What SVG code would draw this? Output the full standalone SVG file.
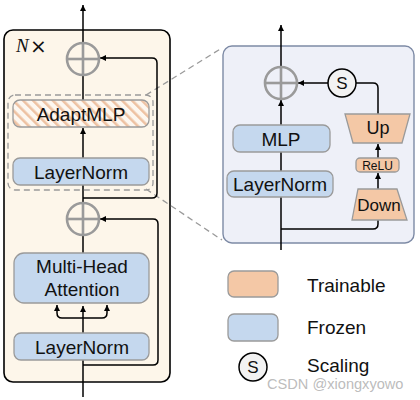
<svg xmlns="http://www.w3.org/2000/svg" width="420" height="400" viewBox="0 0 420 400">
<defs>
<marker id="ah" viewBox="0 0 10 10" refX="10" refY="5" markerWidth="7" markerHeight="6" orient="auto-start-reverse" markerUnits="userSpaceOnUse"><path d="M0,0 L10,5 L0,10 z" fill="#000"/></marker>
<pattern id="hatch" patternUnits="userSpaceOnUse" width="7" height="7" patternTransform="rotate(-45)"><rect width="7" height="7" fill="#fdf7f0"/><rect width="2.6" height="7" fill="#eec2a3"/></pattern>
</defs>
<style>
.t{font-family:"Liberation Sans",Arial,sans-serif;fill:#111;text-anchor:middle}
.ln{fill:none;stroke:#000;stroke-width:1.5}
.blue{fill:#c5d8ee;stroke:#9a9a9a;stroke-width:1.3}
.orange{fill:#f4c8a6;stroke:#9a9a9a;stroke-width:1.3}
.plus{stroke:#9a9a9a;stroke-width:2.6}
.dash{fill:none;stroke:#9a9a9a;stroke-width:1.3;stroke-dasharray:6,4}
</style>
<rect width="420" height="400" fill="#fff"/>
<g id="block-left">
<rect x="4" y="30" width="166" height="352" rx="9" fill="#fdf6ea" stroke="#000" stroke-width="1.6"/>
<text x="16" y="52" font-family="Liberation Serif,serif" font-size="19" font-style="italic" fill="#111">N</text>
<text x="30" y="53" font-family="DejaVu Sans,sans-serif" font-size="20" fill="#111">×</text>
</g>
<g id="block-right">
<rect x="223" y="46" width="191" height="197" rx="9" fill="#eef0f8" stroke="#7d8aa5" stroke-width="1.4"/>
</g>
<g id="connectors">
<line class="dash" x1="146" y1="95" x2="222" y2="48"/>
<line class="dash" x1="146" y1="189" x2="222" y2="240"/>
<path class="ln" d="M83,397 V360"/>
<path class="ln" d="M83,333 V306" marker-end="url(#ah)"/>
<path class="ln" d="M57,305 V313 Q57,318 62,318 H102 Q107,318 107,313 V305" marker-start="url(#ah)" marker-end="url(#ah)"/>
<path class="ln" d="M83,253 V235"/>
<path class="ln" d="M83,203 V185"/>
<path class="ln" d="M83,158 V128" marker-end="url(#ah)"/>
<path class="ln" d="M83,100 V75"/>
<path class="ln" d="M83,43 V5" marker-end="url(#ah)"/>
<path class="ln" d="M83,365 H153 Q158,365 158,360 V224 Q158,219 153,219 H100" marker-end="url(#ah)"/>
<path class="ln" d="M83,198 H152 Q157,198 157,193 V63 Q157,58 152,58 H100" marker-end="url(#ah)"/>
<path class="ln" d="M281,250 V197"/>
<path class="ln" d="M281,171 V152"/>
<path class="ln" d="M281,125 V100" marker-end="url(#ah)"/>
<path class="ln" d="M281,67 V25" marker-end="url(#ah)"/>
<path class="ln" d="M281,229 H373 Q378,229 378,224 V220"/>
<path class="ln" d="M378,189 V173" marker-end="url(#ah)"/>
<path class="ln" d="M378,158 V144" marker-end="url(#ah)"/>
<path class="ln" d="M378,114 V88 Q378,83 373,83 H356"/>
<path class="ln" d="M328,83 H298" marker-end="url(#ah)"/>
</g>
<g id="add-top">
<circle cx="83" cy="59" r="16" fill="#fdf6ea" class="plus"/>
<line class="plus" x1="67" y1="59" x2="99" y2="59"/><line class="plus" x1="83" y1="43" x2="83" y2="75"/>
</g>
<g id="adapter-group">
<rect class="dash" x="8" y="95" width="145" height="95" rx="7"/>
</g>
<g id="adaptmlp">
<rect x="13" y="100" width="136" height="27" rx="7" fill="url(#hatch)" stroke="#9a9a9a" stroke-width="1.3"/>
<text class="t" x="81" y="121" font-size="19">AdaptMLP</text>
</g>
<g id="layernorm-top">
<rect class="blue" x="13" y="158" width="136" height="27" rx="7"/>
<text class="t" x="81" y="179" font-size="19">LayerNorm</text>
</g>
<g id="add-mid">
<circle cx="83" cy="219" r="16" fill="#fdf6ea" class="plus"/>
<line class="plus" x1="67" y1="219" x2="99" y2="219"/><line class="plus" x1="83" y1="203" x2="83" y2="235"/>
</g>
<g id="mha">
<rect class="blue" x="14" y="253" width="135" height="50" rx="10"/>
<text class="t" x="82" y="273" font-size="19">Multi-Head</text>
<text class="t" x="82" y="296" font-size="19">Attention</text>
</g>
<g id="layernorm-bottom">
<rect class="blue" x="14" y="333" width="135" height="27" rx="7"/>
<text class="t" x="82" y="354" font-size="19">LayerNorm</text>
</g>
<g id="add-right">
<circle cx="281" cy="83" r="16" fill="#eef0f8" class="plus"/>
<line class="plus" x1="265" y1="83" x2="297" y2="83"/><line class="plus" x1="281" y1="67" x2="281" y2="99"/>
</g>
<g id="scale">
<circle cx="342" cy="83" r="14" fill="#f2f2f2" stroke="#000" stroke-width="1.5"/>
<text class="t" x="342" y="89" font-size="17">S</text>
</g>
<g id="mlp">
<rect class="blue" x="233" y="125" width="97" height="27" rx="7"/>
<text class="t" x="281" y="146" font-size="19">MLP</text>
</g>
<g id="layernorm-right">
<rect class="blue" x="227" y="171" width="106" height="26" rx="7"/>
<text class="t" x="280" y="191" font-size="19">LayerNorm</text>
</g>
<g id="up">
<polygon class="orange" points="345,114 410,114 402,143 353,143"/>
<text class="t" x="378" y="134" font-size="18">Up</text>
</g>
<g id="relu">
<rect class="orange" x="356" y="158" width="43" height="14" rx="4"/>
<text class="t" x="377.5" y="169.5" font-size="12">ReLU</text>
</g>
<g id="down">
<polygon class="orange" points="358,189 397,189 407,220 352,220"/>
<text class="t" x="379" y="211" font-size="17">Down</text>
</g>
<g id="legend">
<rect class="orange" x="228" y="271" width="50" height="26" rx="6"/>
<text x="307" y="292" font-family="Liberation Sans,sans-serif" font-size="19" fill="#111">Trainable</text>
<rect class="blue" x="228" y="314" width="50" height="27" rx="6"/>
<text x="307" y="334" font-family="Liberation Sans,sans-serif" font-size="19" fill="#111">Frozen</text>
<circle cx="253" cy="367" r="14" fill="#f2f2f2" stroke="#000" stroke-width="1.5"/>
<text class="t" x="253" y="373" font-size="17">S</text>
<text x="307" y="372" font-family="Liberation Sans,sans-serif" font-size="19" fill="#111">Scaling</text>
</g>
<text x="267" y="389" font-family="Liberation Sans,sans-serif" font-size="14.6" fill="#b4b4b4" fill-opacity="0.9">CSDN @xiongxyowo</text>
</svg>
